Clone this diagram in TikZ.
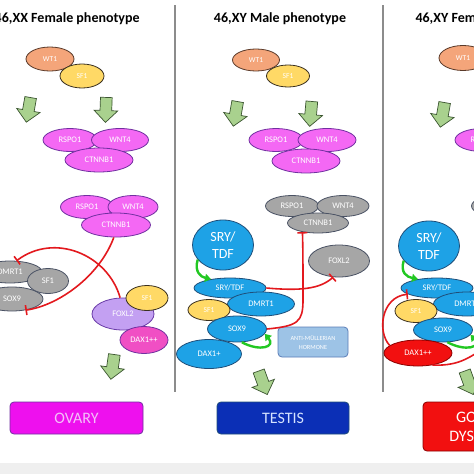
\documentclass[tikz,border=0pt]{standalone}
\usepackage{fontspec}
\setmainfont{Carlito}
\usetikzlibrary{shapes.geometric,shapes.arrows,arrows.meta}
\definecolor{wtc}{HTML}{F4A57A}
\definecolor{wtd}{HTML}{5A3A2A}
\definecolor{sfc}{HTML}{FFD966}
\definecolor{sfd}{HTML}{3A3020}
\definecolor{magc}{HTML}{F468F4}
\definecolor{magd}{HTML}{7030A0}
\definecolor{gryc}{HTML}{A6A6A6}
\definecolor{gryd}{HTML}{4A5264}
\definecolor{bluc}{HTML}{1EA2E6}
\definecolor{blud}{HTML}{1F4E79}
\definecolor{foxc}{HTML}{C3A0F2}
\definecolor{foxd}{HTML}{6A3CA8}
\definecolor{pnkc}{HTML}{F04FC4}
\definecolor{redf}{HTML}{F21010}
\definecolor{redd}{HTML}{8B0000}
\definecolor{gac}{HTML}{A9D18E}
\definecolor{gad}{HTML}{3B5530}
\definecolor{grnl}{HTML}{22C822}
\definecolor{redl}{HTML}{E3191E}
\definecolor{ovc}{HTML}{EE10EE}
\definecolor{ovt}{HTML}{F4C0FA}
\definecolor{tsc}{HTML}{0B2FB6}
\definecolor{tst}{HTML}{D4E2FF}
\definecolor{amhc}{HTML}{9DC3E6}
\definecolor{amhd}{HTML}{5B7DB8}
\definecolor{sepc}{HTML}{8C8C8C}
\definecolor{bandc}{HTML}{EFEFEF}
\tikzset{
  sz/.style 2 args={minimum width=#1pt, minimum height=#2pt},
  gene/.style={ellipse, draw, line width=0.8pt, inner sep=0pt, text=white,
    font=\fontsize{8.5}{9}\selectfont},
  wt/.style={gene, fill=wtc, draw=wtd, font=\fontsize{7.5}{8}\selectfont},
  sf/.style={gene, fill=sfc, draw=sfd, font=\fontsize{7.5}{8}\selectfont},
  mag/.style={gene, fill=magc, draw=magd},
  gry/.style={gene, fill=gryc, draw=gryd},
  blu/.style={gene, fill=bluc, draw=blud},
  fox/.style={gene, fill=foxc, draw=foxd},
  pnk/.style={gene, fill=pnkc, draw=magd},
  rdx/.style={gene, fill=redf, draw=redd},
  bigc/.style={gene, fill=bluc, draw=blud, align=center,
    font=\fontsize{14}{17}\selectfont},
  garrow/.style={single arrow, draw=gad, fill=gac, line width=0.7pt,
    minimum height=25pt, single arrow head extend=6pt, inner sep=5.5pt},
  inhib/.style={draw=redl, line width=1.6pt, -{Bar[width=10pt,line width=1.6pt]}},
  activ/.style={draw=grnl, line width=2.4pt, -{Triangle[length=6pt,width=8pt]}},
  obox/.style={rectangle, rounded corners=4pt, line width=0.8pt, inner sep=0pt,
    font=\fontsize{16}{19}\selectfont, align=center},
  ttl/.style={font=\bfseries\fontsize{14}{16}\selectfont},
  sep/.style={draw=sepc, line width=1.3pt}
}
\begin{document}
\begin{tikzpicture}[x=1pt,y=-1pt]
\useasboundingbox (0,0) rectangle (474,474);
\clip (0,0) rectangle (474,474);
\fill[white] (0,0) rectangle (474,474);
\fill[bandc] (0,463) rectangle (474,474);
\draw[sep] (175,5) -- (175,392);
\draw[sep] (383,5) -- (383,392);
% titles
\node[ttl, anchor=west] (t1) at (-8.8,19) {46,XX Female phenotype};
\node[ttl] (t2) at (280,19) {46,XY Male phenotype};
\node[ttl, anchor=west] (t3) at (412,19) {46,XY Female phenotype};

% ---------- left panel ----------
\node[wt, sz={48}{24}] (wtA) at (50,59) {WT1};
\node[sf, sz={44}{24}] (sfA) at (82,76) {SF1};
\node[garrow, rotate=-100] (gaA1) at (29,107) {};
\node[garrow, rotate=-92] (gaA2) at (106,107) {};
\node[mag, sz={54}{23}] (rsA) at (70,140) {RSPO1};
\node[mag, sz={57}{23}] (wnA) at (120,140) {WNT4};
\node[mag, sz={68}{24}] (ctA) at (99,160) {CTNNB1};
\node[mag, sz={53}{23}] (rsB) at (87,207) {RSPO1};
\node[mag, sz={50}{23}] (wnB) at (133,207) {WNT4};
\node[mag, sz={69}{24}] (ctB) at (116,225) {CTNNB1};
\node[gry, sz={64}{22}] (dmA) at (10,272) {DMRT1};
\node[gry, sz={62}{24}] (soA) at (12,299) {SOX9};
\node[gry, sz={41}{25}] (sfgA) at (48,281) {SF1};
\node[fox, sz={62}{32}] (foA) at (123,314) {FOXL2};
\node[sf, sz={42}{25}] (sfB) at (147,298) {SF1};
\node[pnk, sz={48}{27}] (daA) at (144,340) {DAX1++};
\node[garrow, rotate=-98] (gaA3) at (113,364) {};
\node[obox, fill=ovc, draw=magd, text=ovt, minimum width=133pt, minimum height=32pt] (ovary) at (76.5,418) {OVARY};
\draw[inhib] (ctB.-100) .. controls (100,275) and (60,305) .. (soA.-40);
\draw[inhib] (foA.100) .. controls (108,255) and (55,232) .. (dmA.60);

% ---------- centre panel ----------
\node[wt, sz={47}{22}] (wtC) at (256,60) {WT1};
\node[sf, sz={43}{22}] (sfC) at (288,76) {SF1};
\node[garrow, rotate=-100] (gaC1) at (236,111) {};
\node[garrow, rotate=-95] (gaC2) at (311,111) {};
\node[mag, sz={54}{23}] (rsC) at (276,140) {RSPO1};
\node[mag, sz={58}{23}] (wnC) at (327,140) {WNT4};
\node[mag, sz={68}{24}] (ctC) at (306,161) {CTNNB1};
\node[gry, sz={53}{21}] (rsD) at (292,206) {RSPO1};
\node[gry, sz={52}{21}] (wnD) at (343,206) {WNT4};
\node[gry, sz={61}{20}] (ctD) at (318,223) {CTNNB1};
\node[bigc, sz={61}{50}] (srcC) at (223,245) {SRY/\\TDF};
\node[gry, sz={61}{32}] (foC) at (339,261) {FOXL2};
\node[blu, sz={72}{20}] (srC) at (230,288) {SRY/TDF};
\node[blu, sz={67}{24}] (dmC) at (261,304) {DMRT1};
\node[sf, sz={42}{21}] (sfD) at (209,310) {SF1};
\node[blu, sz={65}{29}] (daC) at (209,354) {DAX1+};
\node[blu, sz={59}{26}] (soC) at (237,329) {SOX9};
\node[rectangle, rounded corners=4pt, fill=amhc, draw=amhd, line width=0.8pt,
  minimum width=70pt, minimum height=30pt, inner sep=0pt, align=center,
  text=white, font=\fontsize{6.3}{9}\selectfont] (amh) at (313,342) {ANTI-MÜLLERIAN\\HORMONE};
\node[garrow, rotate=-70] (gaC3) at (262,380) {};
\node[obox, fill=tsc, draw=blud, text=tst, minimum width=132pt, minimum height=32pt] (testis) at (283,418) {TESTIS};
\draw[activ] (srcC.-150) .. controls (194,272) and (201,277) .. (srC.155);
\draw[activ] (soC.-70) .. controls (260,352) and (276,347) .. (soC.-10);
\draw[inhib] (srC.east) .. controls (300,291) and (320,289) .. (foC.-110);
\draw[inhib] (soC.east) .. controls (298,326) and (303,322) .. (303,300)
  .. controls (303,270) and (303,250) .. (ctD.-150);

% ---------- right panel ----------
\node[wt, sz={48}{25}] (wtR) at (463,58) {WT1};
\node[garrow, rotate=-100] (gaR1) at (443,112) {};
\node[mag, sz={54}{23}] (rsR) at (482,140) {RSPO1};
\node[gry, sz={53}{21}] (rsR2) at (498,206) {RSPO1};
\node[bigc, sz={61}{50}] (srcR) at (429,246) {SRY/\\TDF};
\node[blu, sz={72}{20}] (srR) at (437,288) {SRY/TDF};
\node[blu, sz={67}{24}] (dmR) at (467,304) {DMRT1};
\node[sf, sz={42}{23}] (sfR) at (416,311) {SF1};
\node[blu, sz={59}{24}] (soR) at (443,330) {SOX9};
\node[rdx, sz={68}{26}] (daR) at (418,353) {DAX1++};
\node[garrow, rotate=-70] (gaR3) at (468,380) {};
\node[obox, fill=redf, draw=redd, text=white, minimum width=132pt, minimum height=49pt] (gonad) at (489,426.5) {GONADAL\\DYSGENESIS};
\coordinate (rxR) at (490,345);
\draw[activ] (srcR.-150) .. controls (400,273) and (407,277) .. (srR.155);
\draw[activ] (soR.-70) .. controls (466,352) and (482,347) .. (soR.-10);
\draw[inhib] (daR.165) .. controls (377,332) and (381,297) .. (srR.-168);
\draw[draw=redl, line width=1.6pt] (daR.-40) .. controls (462,366) and (470,356) .. (rxR);
\end{tikzpicture}
\end{document}
